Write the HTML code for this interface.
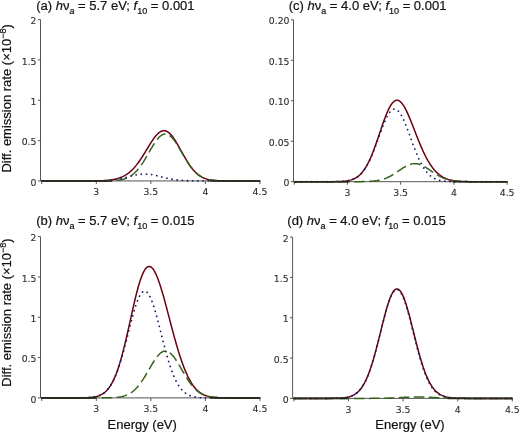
<!DOCTYPE html>
<html><head><meta charset="utf-8"><style>
html,body{margin:0;padding:0;background:#fff;}
svg{display:block;}
.tk{font-family:"DejaVu Sans", sans-serif;font-size:9.3px;fill:#2e2e2e;stroke:#2e2e2e;stroke-width:0.1px;}
.ti{font-family:"Liberation Sans", Arial, sans-serif;font-size:13.0px;fill:#111;stroke:#111;stroke-width:0.2px;}
</style></head><body>
<svg width="520" height="434" viewBox="0 0 520 434">
<rect width="520" height="434" fill="#fff"/>
<path d="M40.50 19.60V180.95M40.50 180.95H259.95" stroke="#555555" stroke-width="1" fill="none"/>
<path d="M41.75 180.95v3M96.30 180.95v3M150.85 180.95v3M205.40 180.95v3M259.95 180.95v3M40.50 180.95h-2.6M40.50 140.61h-2.6M40.50 100.27h-2.6M40.50 59.94h-2.6M40.50 19.60h-2.6" stroke="#555555" stroke-width="1" fill="none"/>
<text x="96.30" y="195.25" text-anchor="middle" class="tk">3</text>
<text x="150.85" y="195.25" text-anchor="middle" class="tk">3.5</text>
<text x="205.40" y="195.25" text-anchor="middle" class="tk">4</text>
<text x="259.95" y="195.25" text-anchor="middle" class="tk">4.5</text>
<text x="36.50" y="185.55" text-anchor="end" class="tk">0</text>
<text x="36.50" y="145.21" text-anchor="end" class="tk">0.5</text>
<text x="36.50" y="104.87" text-anchor="end" class="tk">1</text>
<text x="36.50" y="64.54" text-anchor="end" class="tk">1.5</text>
<text x="36.50" y="24.20" text-anchor="end" class="tk">2</text>
<polyline points="41.75,180.95 42.74,180.95 43.73,180.95 44.73,180.95 45.72,180.95 46.71,180.95 47.70,180.95 48.69,180.95 49.68,180.95 50.68,180.95 51.67,180.95 52.66,180.95 53.65,180.95 54.64,180.95 55.64,180.95 56.63,180.95 57.62,180.95 58.61,180.95 59.60,180.95 60.59,180.95 61.59,180.95 62.58,180.95 63.57,180.95 64.56,180.95 65.55,180.95 66.55,180.95 67.54,180.95 68.53,180.95 69.52,180.95 70.51,180.95 71.50,180.95 72.50,180.95 73.49,180.95 74.48,180.95 75.47,180.95 76.46,180.95 77.46,180.95 78.45,180.95 79.44,180.95 80.43,180.95 81.42,180.95 82.41,180.94 83.41,180.94 84.40,180.94 85.39,180.94 86.38,180.94 87.37,180.93 88.37,180.93 89.36,180.93 90.35,180.92 91.34,180.91 92.33,180.91 93.32,180.90 94.32,180.89 95.31,180.87 96.30,180.86 97.29,180.84 98.28,180.82 99.28,180.79 100.27,180.76 101.26,180.72 102.25,180.68 103.24,180.63 104.23,180.58 105.23,180.52 106.22,180.45 107.21,180.36 108.20,180.27 109.19,180.16 110.19,180.04 111.18,179.91 112.17,179.75 113.16,179.58 114.15,179.39 115.14,179.17 116.14,178.93 117.13,178.67 118.12,178.37 119.11,178.05 120.10,177.69 121.10,177.30 122.09,176.87 123.08,176.40 124.07,175.89 125.06,175.33 126.05,174.72 127.05,174.07 128.04,173.36 129.03,172.60 130.02,171.78 131.01,170.90 132.01,169.96 133.00,168.97 133.99,167.91 134.98,166.79 135.97,165.61 136.96,164.37 137.96,163.07 138.95,161.71 139.94,160.29 140.93,158.83 141.92,157.32 142.92,155.77 143.91,154.18 144.90,152.57 145.89,150.94 146.88,149.29 147.87,147.65 148.87,146.02 149.86,144.40 150.85,142.82 151.84,141.29 152.83,139.81 153.83,138.41 154.82,137.08 155.81,135.85 156.80,134.73 157.79,133.72 158.78,132.85 159.78,132.11 160.77,131.52 161.76,131.08 162.75,130.80 163.74,130.68 164.74,130.73 165.73,130.94 166.72,131.32 167.71,131.86 168.70,132.56 169.69,133.42 170.69,134.41 171.68,135.54 172.67,136.80 173.66,138.17 174.65,139.65 175.65,141.21 176.64,142.84 177.63,144.54 178.62,146.29 179.61,148.06 180.60,149.86 181.60,151.66 182.59,153.46 183.58,155.24 184.57,156.99 185.56,158.70 186.56,160.36 187.55,161.97 188.54,163.51 189.53,164.99 190.52,166.39 191.51,167.72 192.51,168.97 193.50,170.14 194.49,171.24 195.48,172.25 196.47,173.19 197.47,174.05 198.46,174.83 199.45,175.55 200.44,176.20 201.43,176.79 202.42,177.32 203.42,177.79 204.41,178.21 205.40,178.59 206.39,178.92 207.38,179.21 208.38,179.46 209.37,179.68 210.36,179.87 211.35,180.04 212.34,180.19 213.33,180.31 214.33,180.41 215.32,180.50 216.31,180.58 217.30,180.64 218.29,180.70 219.29,180.74 220.28,180.78 221.27,180.81 222.26,180.84 223.25,180.86 224.24,180.88 225.24,180.89 226.23,180.90 227.22,180.91 228.21,180.92 229.20,180.93 230.20,180.93 231.19,180.94 232.18,180.94 233.17,180.94 234.16,180.94 235.15,180.94 236.15,180.95 237.14,180.95 238.13,180.95 239.12,180.95 240.11,180.95 241.11,180.95 242.10,180.95 243.09,180.95 244.08,180.95 245.07,180.95 246.06,180.95 247.06,180.95 248.05,180.95 249.04,180.95 250.03,180.95 251.02,180.95 252.02,180.95 253.01,180.95 254.00,180.95 254.99,180.95 255.98,180.95 256.97,180.95 257.97,180.95 258.96,180.95 259.95,180.95" fill="none" stroke="#6a0010" stroke-width="1.5" stroke-linejoin="round"/>
<polyline points="41.75,180.95 42.74,180.95 43.73,180.95 44.73,180.95 45.72,180.95 46.71,180.95 47.70,180.95 48.69,180.95 49.68,180.95 50.68,180.95 51.67,180.95 52.66,180.95 53.65,180.95 54.64,180.95 55.64,180.95 56.63,180.95 57.62,180.95 58.61,180.95 59.60,180.95 60.59,180.95 61.59,180.95 62.58,180.95 63.57,180.95 64.56,180.95 65.55,180.95 66.55,180.95 67.54,180.95 68.53,180.95 69.52,180.95 70.51,180.95 71.50,180.95 72.50,180.95 73.49,180.95 74.48,180.95 75.47,180.95 76.46,180.95 77.46,180.95 78.45,180.95 79.44,180.95 80.43,180.95 81.42,180.95 82.41,180.95 83.41,180.95 84.40,180.95 85.39,180.95 86.38,180.95 87.37,180.95 88.37,180.95 89.36,180.95 90.35,180.95 91.34,180.95 92.33,180.95 93.32,180.95 94.32,180.95 95.31,180.95 96.30,180.94 97.29,180.94 98.28,180.94 99.28,180.94 100.27,180.93 101.26,180.93 102.25,180.92 103.24,180.92 104.23,180.91 105.23,180.89 106.22,180.88 107.21,180.86 108.20,180.84 109.19,180.82 110.19,180.79 111.18,180.75 112.17,180.71 113.16,180.66 114.15,180.60 115.14,180.53 116.14,180.44 117.13,180.34 118.12,180.22 119.11,180.08 120.10,179.92 121.10,179.74 122.09,179.52 123.08,179.28 124.07,179.00 125.06,178.68 126.05,178.32 127.05,177.91 128.04,177.46 129.03,176.95 130.02,176.38 131.01,175.75 132.01,175.06 133.00,174.29 133.99,173.46 134.98,172.55 135.97,171.57 136.96,170.51 137.96,169.38 138.95,168.16 139.94,166.87 140.93,165.51 141.92,164.08 142.92,162.59 143.91,161.03 144.90,159.42 145.89,157.77 146.88,156.09 147.87,154.37 148.87,152.65 149.86,150.92 150.85,149.20 151.84,147.51 152.83,145.86 153.83,144.26 154.82,142.73 155.81,141.28 156.80,139.93 157.79,138.69 158.78,137.56 159.78,136.58 160.77,135.73 161.76,135.04 162.75,134.51 163.74,134.15 164.74,133.95 165.73,133.93 166.72,134.08 167.71,134.40 168.70,134.89 169.69,135.54 170.69,136.34 171.68,137.29 172.67,138.38 173.66,139.59 174.65,140.92 175.65,142.35 176.64,143.86 177.63,145.44 178.62,147.08 179.61,148.76 180.60,150.47 181.60,152.20 182.59,153.93 183.58,155.64 184.57,157.34 185.56,159.00 186.56,160.62 187.55,162.19 188.54,163.70 189.53,165.15 190.52,166.53 191.51,167.83 192.51,169.07 193.50,170.22 194.49,171.30 195.48,172.31 196.47,173.23 197.47,174.08 198.46,174.87 199.45,175.58 200.44,176.22 201.43,176.81 202.42,177.33 203.42,177.80 204.41,178.22 205.40,178.59 206.39,178.92 207.38,179.21 208.38,179.46 209.37,179.68 210.36,179.88 211.35,180.04 212.34,180.19 213.33,180.31 214.33,180.42 215.32,180.50 216.31,180.58 217.30,180.64 218.29,180.70 219.29,180.74 220.28,180.78 221.27,180.81 222.26,180.84 223.25,180.86 224.24,180.88 225.24,180.89 226.23,180.90 227.22,180.91 228.21,180.92 229.20,180.93 230.20,180.93 231.19,180.94 232.18,180.94 233.17,180.94 234.16,180.94 235.15,180.94 236.15,180.95 237.14,180.95 238.13,180.95 239.12,180.95 240.11,180.95 241.11,180.95 242.10,180.95 243.09,180.95 244.08,180.95 245.07,180.95 246.06,180.95 247.06,180.95 248.05,180.95 249.04,180.95 250.03,180.95 251.02,180.95 252.02,180.95 253.01,180.95 254.00,180.95 254.99,180.95 255.98,180.95 256.97,180.95 257.97,180.95 258.96,180.95 259.95,180.95" fill="none" stroke="#35621b" stroke-width="1.5" stroke-dasharray="10.5 4.5"/>
<polyline points="41.75,180.95 42.74,180.95 43.73,180.95 44.73,180.95 45.72,180.95 46.71,180.95 47.70,180.95 48.69,180.95 49.68,180.95 50.68,180.95 51.67,180.95 52.66,180.95 53.65,180.95 54.64,180.95 55.64,180.95 56.63,180.95 57.62,180.95 58.61,180.95 59.60,180.95 60.59,180.95 61.59,180.95 62.58,180.95 63.57,180.95 64.56,180.95 65.55,180.95 66.55,180.95 67.54,180.95 68.53,180.95 69.52,180.95 70.51,180.95 71.50,180.95 72.50,180.95 73.49,180.95 74.48,180.95 75.47,180.95 76.46,180.95 77.46,180.95 78.45,180.95 79.44,180.95 80.43,180.95 81.42,180.95 82.41,180.95 83.41,180.94 84.40,180.94 85.39,180.94 86.38,180.94 87.37,180.93 88.37,180.93 89.36,180.93 90.35,180.92 91.34,180.92 92.33,180.91 93.32,180.90 94.32,180.89 95.31,180.88 96.30,180.86 97.29,180.85 98.28,180.83 99.28,180.80 100.27,180.78 101.26,180.75 102.25,180.71 103.24,180.67 104.23,180.62 105.23,180.57 106.22,180.51 107.21,180.45 108.20,180.37 109.19,180.29 110.19,180.20 111.18,180.10 112.17,179.99 113.16,179.87 114.15,179.74 115.14,179.60 116.14,179.44 117.13,179.28 118.12,179.10 119.11,178.92 120.10,178.72 121.10,178.51 122.09,178.29 123.08,178.07 124.07,177.84 125.06,177.60 126.05,177.35 127.05,177.10 128.04,176.85 129.03,176.60 130.02,176.35 131.01,176.10 132.01,175.86 133.00,175.62 133.99,175.40 134.98,175.19 135.97,174.99 136.96,174.81 137.96,174.64 138.95,174.49 139.94,174.37 140.93,174.27 141.92,174.19 142.92,174.13 143.91,174.10 144.90,174.09 145.89,174.11 146.88,174.16 147.87,174.23 148.87,174.32 149.86,174.43 150.85,174.57 151.84,174.73 152.83,174.90 153.83,175.09 154.82,175.30 155.81,175.52 156.80,175.75 157.79,175.99 158.78,176.23 159.78,176.48 160.77,176.73 161.76,176.98 162.75,177.24 163.74,177.48 164.74,177.73 165.73,177.96 166.72,178.19 167.71,178.41 168.70,178.63 169.69,178.83 170.69,179.02 171.68,179.20 172.67,179.37 173.66,179.53 174.65,179.68 175.65,179.81 176.64,179.94 177.63,180.05 178.62,180.16 179.61,180.25 180.60,180.34 181.60,180.42 182.59,180.48 183.58,180.55 184.57,180.60 185.56,180.65 186.56,180.69 187.55,180.73 188.54,180.76 189.53,180.79 190.52,180.82 191.51,180.84 192.51,180.85 193.50,180.87 194.49,180.88 195.48,180.90 196.47,180.90 197.47,180.91 198.46,180.92 199.45,180.92 200.44,180.93 201.43,180.93 202.42,180.94 203.42,180.94 204.41,180.94 205.40,180.94 206.39,180.94 207.38,180.95 208.38,180.95 209.37,180.95 210.36,180.95 211.35,180.95 212.34,180.95 213.33,180.95 214.33,180.95 215.32,180.95 216.31,180.95 217.30,180.95 218.29,180.95 219.29,180.95 220.28,180.95 221.27,180.95 222.26,180.95 223.25,180.95 224.24,180.95 225.24,180.95 226.23,180.95 227.22,180.95 228.21,180.95 229.20,180.95 230.20,180.95 231.19,180.95 232.18,180.95 233.17,180.95 234.16,180.95 235.15,180.95 236.15,180.95 237.14,180.95 238.13,180.95 239.12,180.95 240.11,180.95 241.11,180.95 242.10,180.95 243.09,180.95 244.08,180.95 245.07,180.95 246.06,180.95 247.06,180.95 248.05,180.95 249.04,180.95 250.03,180.95 251.02,180.95 252.02,180.95 253.01,180.95 254.00,180.95 254.99,180.95 255.98,180.95 256.97,180.95 257.97,180.95 258.96,180.95 259.95,180.95" fill="none" stroke="#1a1a6a" stroke-width="1.8" stroke-dasharray="0.01 5.19" stroke-dashoffset="3.80" stroke-linecap="round"/>
<path d="M41.00 180.95H112.12M209.76 180.95H260.45" stroke="#26281c" stroke-width="1.6" fill="none"/>
<text x="36.20" y="10.00" class="ti">(a) <tspan font-style="italic">h</tspan>ν<tspan font-style="italic" font-size="9" dy="3.9">a</tspan><tspan dy="-3.9"> = 5.7 eV; </tspan><tspan font-style="italic">f</tspan><tspan font-size="9" dy="3.9">10</tspan><tspan dy="-3.9"> = 0.001</tspan></text>
<text transform="translate(11.2 98.40) rotate(-90)" text-anchor="middle" class="ti">Diff. emission rate (×10<tspan font-size="9" dy="-5.2">−8</tspan><tspan dy="5.2">)</tspan></text>
<path d="M293.50 19.80V181.70M293.50 181.70H507.15" stroke="#555555" stroke-width="1" fill="none"/>
<path d="M294.15 181.70v3M347.40 181.70v3M400.65 181.70v3M453.90 181.70v3M507.15 181.70v3M293.50 181.70h-2.6M293.50 141.22h-2.6M293.50 100.75h-2.6M293.50 60.28h-2.6M293.50 19.80h-2.6" stroke="#555555" stroke-width="1" fill="none"/>
<text x="347.40" y="196.00" text-anchor="middle" class="tk">3</text>
<text x="400.65" y="196.00" text-anchor="middle" class="tk">3.5</text>
<text x="453.90" y="196.00" text-anchor="middle" class="tk">4</text>
<text x="507.15" y="196.00" text-anchor="middle" class="tk">4.5</text>
<text x="289.50" y="186.30" text-anchor="end" class="tk">0</text>
<text x="289.50" y="145.82" text-anchor="end" class="tk">0.05</text>
<text x="289.50" y="105.35" text-anchor="end" class="tk">0.10</text>
<text x="289.50" y="64.88" text-anchor="end" class="tk">0.15</text>
<text x="289.50" y="24.40" text-anchor="end" class="tk">0.20</text>
<polyline points="294.15,181.70 295.12,181.70 296.09,181.70 297.05,181.70 298.02,181.70 298.99,181.70 299.96,181.70 300.93,181.70 301.90,181.70 302.86,181.70 303.83,181.70 304.80,181.70 305.77,181.70 306.74,181.70 307.70,181.70 308.67,181.70 309.64,181.70 310.61,181.70 311.58,181.70 312.55,181.70 313.51,181.70 314.48,181.70 315.45,181.70 316.42,181.70 317.39,181.70 318.35,181.70 319.32,181.70 320.29,181.70 321.26,181.70 322.23,181.70 323.20,181.70 324.16,181.70 325.13,181.69 326.10,181.69 327.07,181.69 328.04,181.69 329.00,181.68 329.97,181.68 330.94,181.67 331.91,181.67 332.88,181.66 333.85,181.65 334.81,181.63 335.78,181.62 336.75,181.60 337.72,181.57 338.69,181.54 339.65,181.50 340.62,181.46 341.59,181.40 342.56,181.34 343.53,181.26 344.50,181.17 345.46,181.06 346.43,180.92 347.40,180.77 348.37,180.59 349.34,180.38 350.30,180.14 351.27,179.85 352.24,179.53 353.21,179.15 354.18,178.72 355.15,178.23 356.11,177.68 357.08,177.05 358.05,176.35 359.02,175.56 359.99,174.69 360.95,173.71 361.92,172.64 362.89,171.46 363.86,170.16 364.83,168.75 365.80,167.21 366.76,165.56 367.73,163.78 368.70,161.87 369.67,159.84 370.64,157.69 371.60,155.42 372.57,153.04 373.54,150.55 374.51,147.97 375.48,145.31 376.45,142.57 377.41,139.77 378.38,136.93 379.35,134.07 380.32,131.20 381.29,128.34 382.25,125.52 383.22,122.75 384.19,120.05 385.16,117.45 386.13,114.97 387.10,112.63 388.06,110.44 389.03,108.43 390.00,106.61 390.97,105.00 391.94,103.60 392.90,102.44 393.87,101.51 394.84,100.84 395.81,100.41 396.78,100.23 397.75,100.30 398.71,100.62 399.68,101.17 400.65,101.96 401.62,102.97 402.59,104.19 403.55,105.61 404.52,107.21 405.49,108.97 406.46,110.88 407.43,112.93 408.40,115.09 409.36,117.35 410.33,119.69 411.30,122.09 412.27,124.54 413.24,127.02 414.20,129.52 415.17,132.02 416.14,134.51 417.11,136.97 418.08,139.41 419.05,141.80 420.01,144.13 420.98,146.41 421.95,148.63 422.92,150.77 423.89,152.84 424.85,154.83 425.82,156.74 426.79,158.56 427.76,160.30 428.73,161.95 429.70,163.52 430.66,165.00 431.63,166.40 432.60,167.71 433.57,168.94 434.54,170.09 435.50,171.17 436.47,172.17 437.44,173.09 438.41,173.95 439.38,174.74 440.35,175.47 441.31,176.13 442.28,176.74 443.25,177.30 444.22,177.80 445.19,178.26 446.15,178.67 447.12,179.04 448.09,179.37 449.06,179.67 450.03,179.93 451.00,180.17 451.96,180.38 452.93,180.56 453.90,180.72 454.87,180.86 455.84,180.99 456.80,181.09 457.77,181.19 458.74,181.27 459.71,181.33 460.68,181.39 461.65,181.44 462.61,181.49 463.58,181.52 464.55,181.55 465.52,181.58 466.49,181.60 467.45,181.62 468.42,181.63 469.39,181.65 470.36,181.66 471.33,181.66 472.30,181.67 473.26,181.68 474.23,181.68 475.20,181.69 476.17,181.69 477.14,181.69 478.10,181.69 479.07,181.69 480.04,181.70 481.01,181.70 481.98,181.70 482.95,181.70 483.91,181.70 484.88,181.70 485.85,181.70 486.82,181.70 487.79,181.70 488.75,181.70 489.72,181.70 490.69,181.70 491.66,181.70 492.63,181.70 493.60,181.70 494.56,181.70 495.53,181.70 496.50,181.70 497.47,181.70 498.44,181.70 499.40,181.70 500.37,181.70 501.34,181.70 502.31,181.70 503.28,181.70 504.25,181.70 505.21,181.70 506.18,181.70 507.15,181.70" fill="none" stroke="#6a0010" stroke-width="1.5" stroke-linejoin="round"/>
<polyline points="294.15,181.70 295.12,181.70 296.09,181.70 297.05,181.70 298.02,181.70 298.99,181.70 299.96,181.70 300.93,181.70 301.90,181.70 302.86,181.70 303.83,181.70 304.80,181.70 305.77,181.70 306.74,181.70 307.70,181.70 308.67,181.70 309.64,181.70 310.61,181.70 311.58,181.70 312.55,181.70 313.51,181.70 314.48,181.70 315.45,181.70 316.42,181.70 317.39,181.70 318.35,181.70 319.32,181.70 320.29,181.70 321.26,181.70 322.23,181.70 323.20,181.70 324.16,181.70 325.13,181.70 326.10,181.70 327.07,181.70 328.04,181.70 329.00,181.70 329.97,181.70 330.94,181.70 331.91,181.70 332.88,181.70 333.85,181.70 334.81,181.70 335.78,181.70 336.75,181.70 337.72,181.70 338.69,181.70 339.65,181.70 340.62,181.70 341.59,181.70 342.56,181.70 343.53,181.70 344.50,181.70 345.46,181.70 346.43,181.70 347.40,181.70 348.37,181.70 349.34,181.70 350.30,181.69 351.27,181.69 352.24,181.69 353.21,181.69 354.18,181.69 355.15,181.68 356.11,181.68 357.08,181.67 358.05,181.67 359.02,181.66 359.99,181.65 360.95,181.64 361.92,181.62 362.89,181.61 363.86,181.59 364.83,181.56 365.80,181.54 366.76,181.50 367.73,181.47 368.70,181.42 369.67,181.37 370.64,181.31 371.60,181.23 372.57,181.15 373.54,181.06 374.51,180.95 375.48,180.83 376.45,180.69 377.41,180.54 378.38,180.36 379.35,180.16 380.32,179.95 381.29,179.70 382.25,179.44 383.22,179.15 384.19,178.83 385.16,178.48 386.13,178.10 387.10,177.69 388.06,177.26 389.03,176.79 390.00,176.30 390.97,175.78 391.94,175.23 392.90,174.65 393.87,174.06 394.84,173.44 395.81,172.80 396.78,172.16 397.75,171.50 398.71,170.84 399.68,170.17 400.65,169.52 401.62,168.87 402.59,168.23 403.55,167.62 404.52,167.03 405.49,166.48 406.46,165.96 407.43,165.48 408.40,165.05 409.36,164.67 410.33,164.35 411.30,164.08 412.27,163.88 413.24,163.74 414.20,163.66 415.17,163.65 416.14,163.71 417.11,163.83 418.08,164.02 419.05,164.27 420.01,164.58 420.98,164.94 421.95,165.36 422.92,165.83 423.89,166.34 424.85,166.88 425.82,167.46 426.79,168.07 427.76,168.70 428.73,169.35 429.70,170.00 430.66,170.66 431.63,171.33 432.60,171.99 433.57,172.64 434.54,173.28 435.50,173.90 436.47,174.50 437.44,175.08 438.41,175.64 439.38,176.16 440.35,176.67 441.31,177.14 442.28,177.58 443.25,178.00 444.22,178.38 445.19,178.74 446.15,179.07 447.12,179.36 448.09,179.64 449.06,179.89 450.03,180.11 451.00,180.31 451.96,180.49 452.93,180.65 453.90,180.80 454.87,180.92 455.84,181.03 456.80,181.13 457.77,181.21 458.74,181.29 459.71,181.35 460.68,181.41 461.65,181.45 462.61,181.49 463.58,181.53 464.55,181.56 465.52,181.58 466.49,181.60 467.45,181.62 468.42,181.64 469.39,181.65 470.36,181.66 471.33,181.67 472.30,181.67 473.26,181.68 474.23,181.68 475.20,181.69 476.17,181.69 477.14,181.69 478.10,181.69 479.07,181.69 480.04,181.70 481.01,181.70 481.98,181.70 482.95,181.70 483.91,181.70 484.88,181.70 485.85,181.70 486.82,181.70 487.79,181.70 488.75,181.70 489.72,181.70 490.69,181.70 491.66,181.70 492.63,181.70 493.60,181.70 494.56,181.70 495.53,181.70 496.50,181.70 497.47,181.70 498.44,181.70 499.40,181.70 500.37,181.70 501.34,181.70 502.31,181.70 503.28,181.70 504.25,181.70 505.21,181.70 506.18,181.70 507.15,181.70" fill="none" stroke="#35621b" stroke-width="1.5" stroke-dasharray="10.5 4.5"/>
<polyline points="294.15,181.70 295.12,181.70 296.09,181.70 297.05,181.70 298.02,181.70 298.99,181.70 299.96,181.70 300.93,181.70 301.90,181.70 302.86,181.70 303.83,181.70 304.80,181.70 305.77,181.70 306.74,181.70 307.70,181.70 308.67,181.70 309.64,181.70 310.61,181.70 311.58,181.70 312.55,181.70 313.51,181.70 314.48,181.70 315.45,181.70 316.42,181.70 317.39,181.70 318.35,181.70 319.32,181.70 320.29,181.70 321.26,181.70 322.23,181.70 323.20,181.70 324.16,181.70 325.13,181.69 326.10,181.69 327.07,181.69 328.04,181.69 329.00,181.68 329.97,181.68 330.94,181.67 331.91,181.67 332.88,181.66 333.85,181.65 334.81,181.63 335.78,181.62 336.75,181.60 337.72,181.57 338.69,181.54 339.65,181.50 340.62,181.46 341.59,181.40 342.56,181.34 343.53,181.26 344.50,181.17 345.46,181.06 346.43,180.93 347.40,180.77 348.37,180.59 349.34,180.38 350.30,180.14 351.27,179.86 352.24,179.53 353.21,179.16 354.18,178.73 355.15,178.25 356.11,177.70 357.08,177.08 358.05,176.38 359.02,175.61 359.99,174.74 360.95,173.78 361.92,172.71 362.89,171.55 363.86,170.27 364.83,168.88 365.80,167.38 366.76,165.75 367.73,164.01 368.70,162.15 369.67,160.17 370.64,158.08 371.60,155.89 372.57,153.59 373.54,151.19 374.51,148.72 375.48,146.18 376.45,143.58 377.41,140.94 378.38,138.27 379.35,135.60 380.32,132.95 381.29,130.34 382.25,127.78 383.22,125.30 384.19,122.93 385.16,120.68 386.13,118.57 387.10,116.63 388.06,114.88 389.03,113.34 390.00,112.01 390.97,110.92 391.94,110.07 392.90,109.49 393.87,109.16 394.84,109.10 395.81,109.30 396.78,109.77 397.75,110.50 398.71,111.48 399.68,112.70 400.65,114.15 401.62,115.80 402.59,117.66 403.55,119.69 404.52,121.87 405.49,124.20 406.46,126.63 407.43,129.15 408.40,131.74 409.36,134.38 410.33,137.04 411.30,139.71 412.27,142.37 413.24,144.99 414.20,147.56 415.17,150.07 416.14,152.50 417.11,154.84 418.08,157.09 419.05,159.23 420.01,161.26 420.98,163.17 421.95,164.97 422.92,166.65 423.89,168.20 424.85,169.65 425.82,170.97 426.79,172.19 427.76,173.30 428.73,174.31 429.70,175.22 430.66,176.04 431.63,176.77 432.60,177.42 433.57,178.01 434.54,178.52 435.50,178.97 436.47,179.37 437.44,179.71 438.41,180.02 439.38,180.28 440.35,180.50 441.31,180.69 442.28,180.86 443.25,181.00 444.22,181.12 445.19,181.22 446.15,181.30 447.12,181.37 448.09,181.43 449.06,181.48 450.03,181.52 451.00,181.56 451.96,181.59 452.93,181.61 453.90,181.63 454.87,181.64 455.84,181.65 456.80,181.66 457.77,181.67 458.74,181.68 459.71,181.68 460.68,181.69 461.65,181.69 462.61,181.69 463.58,181.69 464.55,181.70 465.52,181.70 466.49,181.70 467.45,181.70 468.42,181.70 469.39,181.70 470.36,181.70 471.33,181.70 472.30,181.70 473.26,181.70 474.23,181.70 475.20,181.70 476.17,181.70 477.14,181.70 478.10,181.70 479.07,181.70 480.04,181.70 481.01,181.70 481.98,181.70 482.95,181.70 483.91,181.70 484.88,181.70 485.85,181.70 486.82,181.70 487.79,181.70 488.75,181.70 489.72,181.70 490.69,181.70 491.66,181.70 492.63,181.70 493.60,181.70 494.56,181.70 495.53,181.70 496.50,181.70 497.47,181.70 498.44,181.70 499.40,181.70 500.37,181.70 501.34,181.70 502.31,181.70 503.28,181.70 504.25,181.70 505.21,181.70 506.18,181.70 507.15,181.70" fill="none" stroke="#1a1a6a" stroke-width="1.8" stroke-dasharray="0.01 5.19" stroke-dashoffset="3.30" stroke-linecap="round"/>
<path d="M294.00 181.70H348.78M452.62 181.70H507.65" stroke="#26281c" stroke-width="1.6" fill="none"/>
<text x="288.70" y="10.00" class="ti">(c) <tspan font-style="italic">h</tspan>ν<tspan font-size="9" dy="3.9">a</tspan><tspan dy="-3.9"> = 4.0 eV; </tspan><tspan font-style="italic">f</tspan><tspan font-size="9" dy="3.9">10</tspan><tspan dy="-3.9"> = 0.001</tspan></text>
<path d="M40.50 236.60V397.90M40.50 397.90H259.95" stroke="#555555" stroke-width="1" fill="none"/>
<path d="M41.75 397.90v3M96.30 397.90v3M150.85 397.90v3M205.40 397.90v3M259.95 397.90v3M40.50 397.90h-2.6M40.50 357.57h-2.6M40.50 317.25h-2.6M40.50 276.92h-2.6M40.50 236.60h-2.6" stroke="#555555" stroke-width="1" fill="none"/>
<text x="96.30" y="412.20" text-anchor="middle" class="tk">3</text>
<text x="150.85" y="412.20" text-anchor="middle" class="tk">3.5</text>
<text x="205.40" y="412.20" text-anchor="middle" class="tk">4</text>
<text x="259.95" y="412.20" text-anchor="middle" class="tk">4.5</text>
<text x="36.50" y="402.50" text-anchor="end" class="tk">0</text>
<text x="36.50" y="362.18" text-anchor="end" class="tk">0.5</text>
<text x="36.50" y="321.85" text-anchor="end" class="tk">1</text>
<text x="36.50" y="281.52" text-anchor="end" class="tk">1.5</text>
<text x="36.50" y="241.20" text-anchor="end" class="tk">2</text>
<polyline points="41.75,397.90 42.74,397.90 43.73,397.90 44.73,397.90 45.72,397.90 46.71,397.90 47.70,397.90 48.69,397.90 49.68,397.90 50.68,397.90 51.67,397.90 52.66,397.90 53.65,397.90 54.64,397.90 55.64,397.90 56.63,397.90 57.62,397.90 58.61,397.90 59.60,397.90 60.59,397.90 61.59,397.90 62.58,397.90 63.57,397.90 64.56,397.90 65.55,397.90 66.55,397.90 67.54,397.90 68.53,397.90 69.52,397.90 70.51,397.90 71.50,397.90 72.50,397.89 73.49,397.89 74.48,397.89 75.47,397.89 76.46,397.88 77.46,397.88 78.45,397.87 79.44,397.86 80.43,397.85 81.42,397.84 82.41,397.82 83.41,397.80 84.40,397.78 85.39,397.75 86.38,397.71 87.37,397.66 88.37,397.61 89.36,397.54 90.35,397.46 91.34,397.37 92.33,397.25 93.32,397.11 94.32,396.95 95.31,396.76 96.30,396.53 97.29,396.26 98.28,395.95 99.28,395.59 100.27,395.17 101.26,394.69 102.25,394.14 103.24,393.50 104.23,392.78 105.23,391.96 106.22,391.03 107.21,389.99 108.20,388.83 109.19,387.52 110.19,386.08 111.18,384.48 112.17,382.72 113.16,380.79 114.15,378.69 115.14,376.40 116.14,373.92 117.13,371.26 118.12,368.40 119.11,365.36 120.10,362.12 121.10,358.70 122.09,355.11 123.08,351.34 124.07,347.42 125.06,343.36 126.05,339.18 127.05,334.89 128.04,330.52 129.03,326.08 130.02,321.62 131.01,317.14 132.01,312.69 133.00,308.28 133.99,303.96 134.98,299.74 135.97,295.67 136.96,291.76 137.96,288.06 138.95,284.57 139.94,281.34 140.93,278.38 141.92,275.72 142.92,273.36 143.91,271.33 144.90,269.65 145.89,268.30 146.88,267.32 147.87,266.69 148.87,266.41 149.86,266.49 150.85,266.91 151.84,267.67 152.83,268.75 153.83,270.15 154.82,271.85 155.81,273.82 156.80,276.06 157.79,278.53 158.78,281.23 159.78,284.13 160.77,287.21 161.76,290.45 162.75,293.83 163.74,297.32 164.74,300.91 165.73,304.58 166.72,308.31 167.71,312.07 168.70,315.86 169.69,319.66 170.69,323.45 171.68,327.21 172.67,330.94 173.66,334.61 174.65,338.23 175.65,341.77 176.64,345.22 177.63,348.59 178.62,351.85 179.61,355.01 180.60,358.05 181.60,360.97 182.59,363.77 183.58,366.44 184.57,368.98 185.56,371.39 186.56,373.66 187.55,375.81 188.54,377.82 189.53,379.71 190.52,381.46 191.51,383.09 192.51,384.60 193.50,385.99 194.49,387.27 195.48,388.45 196.47,389.52 197.47,390.49 198.46,391.37 199.45,392.17 200.44,392.88 201.43,393.52 202.42,394.09 203.42,394.60 204.41,395.05 205.40,395.45 206.39,395.80 207.38,396.10 208.38,396.37 209.37,396.60 210.36,396.80 211.35,396.97 212.34,397.12 213.33,397.25 214.33,397.36 215.32,397.45 216.31,397.53 217.30,397.59 218.29,397.65 219.29,397.69 220.28,397.73 221.27,397.76 222.26,397.79 223.25,397.81 224.24,397.83 225.24,397.84 226.23,397.85 227.22,397.86 228.21,397.87 229.20,397.88 230.20,397.88 231.19,397.89 232.18,397.89 233.17,397.89 234.16,397.89 235.15,397.89 236.15,397.90 237.14,397.90 238.13,397.90 239.12,397.90 240.11,397.90 241.11,397.90 242.10,397.90 243.09,397.90 244.08,397.90 245.07,397.90 246.06,397.90 247.06,397.90 248.05,397.90 249.04,397.90 250.03,397.90 251.02,397.90 252.02,397.90 253.01,397.90 254.00,397.90 254.99,397.90 255.98,397.90 256.97,397.90 257.97,397.90 258.96,397.90 259.95,397.90" fill="none" stroke="#6a0010" stroke-width="1.5" stroke-linejoin="round"/>
<polyline points="41.75,397.90 42.74,397.90 43.73,397.90 44.73,397.90 45.72,397.90 46.71,397.90 47.70,397.90 48.69,397.90 49.68,397.90 50.68,397.90 51.67,397.90 52.66,397.90 53.65,397.90 54.64,397.90 55.64,397.90 56.63,397.90 57.62,397.90 58.61,397.90 59.60,397.90 60.59,397.90 61.59,397.90 62.58,397.90 63.57,397.90 64.56,397.90 65.55,397.90 66.55,397.90 67.54,397.90 68.53,397.90 69.52,397.90 70.51,397.90 71.50,397.90 72.50,397.90 73.49,397.90 74.48,397.90 75.47,397.90 76.46,397.90 77.46,397.90 78.45,397.90 79.44,397.90 80.43,397.90 81.42,397.90 82.41,397.90 83.41,397.90 84.40,397.90 85.39,397.90 86.38,397.90 87.37,397.90 88.37,397.90 89.36,397.90 90.35,397.90 91.34,397.90 92.33,397.90 93.32,397.90 94.32,397.90 95.31,397.90 96.30,397.89 97.29,397.89 98.28,397.89 99.28,397.89 100.27,397.88 101.26,397.88 102.25,397.87 103.24,397.87 104.23,397.86 105.23,397.85 106.22,397.83 107.21,397.82 108.20,397.80 109.19,397.77 110.19,397.74 111.18,397.71 112.17,397.66 113.16,397.61 114.15,397.55 115.14,397.48 116.14,397.39 117.13,397.29 118.12,397.17 119.11,397.04 120.10,396.88 121.10,396.69 122.09,396.48 123.08,396.24 124.07,395.96 125.06,395.64 126.05,395.29 127.05,394.88 128.04,394.43 129.03,393.92 130.02,393.36 131.01,392.73 132.01,392.04 133.00,391.28 133.99,390.45 134.98,389.55 135.97,388.57 136.96,387.52 137.96,386.39 138.95,385.18 139.94,383.90 140.93,382.55 141.92,381.12 142.92,379.64 143.91,378.09 144.90,376.49 145.89,374.85 146.88,373.17 147.87,371.47 148.87,369.75 149.86,368.03 150.85,366.33 151.84,364.65 152.83,363.00 153.83,361.41 154.82,359.89 155.81,358.45 156.80,357.10 157.79,355.87 158.78,354.75 159.78,353.77 160.77,352.93 161.76,352.24 162.75,351.71 163.74,351.35 164.74,351.16 165.73,351.13 166.72,351.28 167.71,351.60 168.70,352.09 169.69,352.74 170.69,353.54 171.68,354.48 172.67,355.56 173.66,356.77 174.65,358.09 175.65,359.51 176.64,361.01 177.63,362.58 178.62,364.21 179.61,365.89 180.60,367.59 181.60,369.30 182.59,371.02 183.58,372.73 184.57,374.42 185.56,376.07 186.56,377.68 187.55,379.24 188.54,380.74 189.53,382.18 190.52,383.56 191.51,384.86 192.51,386.08 193.50,387.23 194.49,388.31 195.48,389.30 196.47,390.22 197.47,391.07 198.46,391.85 199.45,392.56 200.44,393.20 201.43,393.78 202.42,394.30 203.42,394.77 204.41,395.19 205.40,395.55 206.39,395.88 207.38,396.17 208.38,396.42 209.37,396.64 210.36,396.83 211.35,397.00 212.34,397.14 213.33,397.26 214.33,397.37 215.32,397.46 216.31,397.53 217.30,397.60 218.29,397.65 219.29,397.69 220.28,397.73 221.27,397.76 222.26,397.79 223.25,397.81 224.24,397.83 225.24,397.84 226.23,397.85 227.22,397.86 228.21,397.87 229.20,397.88 230.20,397.88 231.19,397.89 232.18,397.89 233.17,397.89 234.16,397.89 235.15,397.89 236.15,397.90 237.14,397.90 238.13,397.90 239.12,397.90 240.11,397.90 241.11,397.90 242.10,397.90 243.09,397.90 244.08,397.90 245.07,397.90 246.06,397.90 247.06,397.90 248.05,397.90 249.04,397.90 250.03,397.90 251.02,397.90 252.02,397.90 253.01,397.90 254.00,397.90 254.99,397.90 255.98,397.90 256.97,397.90 257.97,397.90 258.96,397.90 259.95,397.90" fill="none" stroke="#35621b" stroke-width="1.5" stroke-dasharray="10.5 4.5"/>
<polyline points="41.75,397.90 42.74,397.90 43.73,397.90 44.73,397.90 45.72,397.90 46.71,397.90 47.70,397.90 48.69,397.90 49.68,397.90 50.68,397.90 51.67,397.90 52.66,397.90 53.65,397.90 54.64,397.90 55.64,397.90 56.63,397.90 57.62,397.90 58.61,397.90 59.60,397.90 60.59,397.90 61.59,397.90 62.58,397.90 63.57,397.90 64.56,397.90 65.55,397.90 66.55,397.90 67.54,397.90 68.53,397.90 69.52,397.90 70.51,397.90 71.50,397.90 72.50,397.89 73.49,397.89 74.48,397.89 75.47,397.89 76.46,397.88 77.46,397.88 78.45,397.87 79.44,397.86 80.43,397.85 81.42,397.84 82.41,397.82 83.41,397.80 84.40,397.78 85.39,397.75 86.38,397.71 87.37,397.67 88.37,397.61 89.36,397.54 90.35,397.46 91.34,397.37 92.33,397.25 93.32,397.12 94.32,396.95 95.31,396.76 96.30,396.54 97.29,396.27 98.28,395.96 99.28,395.60 100.27,395.19 101.26,394.71 102.25,394.16 103.24,393.54 104.23,392.82 105.23,392.01 106.22,391.10 107.21,390.08 108.20,388.93 109.19,387.65 110.19,386.24 111.18,384.68 112.17,382.96 113.16,381.08 114.15,379.04 115.14,376.82 116.14,374.43 117.13,371.87 118.12,369.13 119.11,366.22 120.10,363.14 121.10,359.91 122.09,356.53 123.08,353.00 124.07,349.36 125.06,345.62 126.05,341.79 127.05,337.91 128.04,333.99 129.03,330.06 130.02,326.16 131.01,322.31 132.01,318.55 133.00,314.90 133.99,311.41 134.98,308.09 135.97,305.00 136.96,302.15 137.96,299.57 138.95,297.29 139.94,295.34 140.93,293.73 141.92,292.49 142.92,291.62 143.91,291.14 144.90,291.05 145.89,291.35 146.88,292.05 147.87,293.12 148.87,294.56 149.86,296.35 150.85,298.48 151.84,300.92 152.83,303.65 153.83,306.64 154.82,309.86 155.81,313.27 156.80,316.85 157.79,320.57 158.78,324.38 159.78,328.26 160.77,332.18 161.76,336.11 162.75,340.01 163.74,343.87 164.74,347.65 165.73,351.34 166.72,354.92 167.71,358.37 168.70,361.68 169.69,364.83 170.69,367.81 171.68,370.63 172.67,373.27 173.66,375.74 174.65,378.04 175.65,380.16 176.64,382.12 177.63,383.91 178.62,385.54 179.61,387.02 180.60,388.36 181.60,389.56 182.59,390.64 183.58,391.61 184.57,392.46 185.56,393.22 186.56,393.88 187.55,394.47 188.54,394.98 189.53,395.42 190.52,395.80 191.51,396.14 192.51,396.42 193.50,396.66 194.49,396.87 195.48,397.04 196.47,397.19 197.47,397.32 198.46,397.42 199.45,397.51 200.44,397.58 201.43,397.64 202.42,397.69 203.42,397.73 204.41,397.76 205.40,397.79 206.39,397.81 207.38,397.83 208.38,397.85 209.37,397.86 210.36,397.87 211.35,397.87 212.34,397.88 213.33,397.88 214.33,397.89 215.32,397.89 216.31,397.89 217.30,397.89 218.29,397.90 219.29,397.90 220.28,397.90 221.27,397.90 222.26,397.90 223.25,397.90 224.24,397.90 225.24,397.90 226.23,397.90 227.22,397.90 228.21,397.90 229.20,397.90 230.20,397.90 231.19,397.90 232.18,397.90 233.17,397.90 234.16,397.90 235.15,397.90 236.15,397.90 237.14,397.90 238.13,397.90 239.12,397.90 240.11,397.90 241.11,397.90 242.10,397.90 243.09,397.90 244.08,397.90 245.07,397.90 246.06,397.90 247.06,397.90 248.05,397.90 249.04,397.90 250.03,397.90 251.02,397.90 252.02,397.90 253.01,397.90 254.00,397.90 254.99,397.90 255.98,397.90 256.97,397.90 257.97,397.90 258.96,397.90 259.95,397.90" fill="none" stroke="#1a1a6a" stroke-width="1.8" stroke-dasharray="0.01 5.19" stroke-dashoffset="4.20" stroke-linecap="round"/>
<path d="M41.00 397.90H95.54M209.87 397.90H260.45" stroke="#26281c" stroke-width="1.6" fill="none"/>
<text x="36.20" y="224.80" class="ti">(b) <tspan font-style="italic">h</tspan>ν<tspan font-size="9" dy="3.9">a</tspan><tspan dy="-3.9"> = 5.7 eV; </tspan><tspan font-style="italic">f</tspan><tspan font-size="9" dy="3.9">10</tspan><tspan dy="-3.9"> = 0.015</tspan></text>
<text transform="translate(11.2 312.55) rotate(-90)" text-anchor="middle" class="ti">Diff. emission rate (×10<tspan font-size="9" dy="-5.2">−8</tspan><tspan dy="5.2">)</tspan></text>
<text x="142.20" y="428.8" text-anchor="middle" class="ti">Energy (eV)</text>
<path d="M292.60 237.10V398.40M292.60 398.40H512.10" stroke="#555555" stroke-width="1" fill="none"/>
<path d="M293.90 398.40v3M348.50 398.40v3M403.10 398.40v3M457.70 398.40v3M512.30 398.40v3M292.60 398.40h-2.6M292.60 358.07h-2.6M292.60 317.75h-2.6M292.60 277.42h-2.6M292.60 237.10h-2.6" stroke="#555555" stroke-width="1" fill="none"/>
<text x="348.50" y="412.70" text-anchor="middle" class="tk">3</text>
<text x="403.10" y="412.70" text-anchor="middle" class="tk">3.5</text>
<text x="457.70" y="412.70" text-anchor="middle" class="tk">4</text>
<text x="512.30" y="412.70" text-anchor="middle" class="tk">4.5</text>
<text x="288.60" y="403.00" text-anchor="end" class="tk">0</text>
<text x="288.60" y="362.68" text-anchor="end" class="tk">0.5</text>
<text x="288.60" y="322.35" text-anchor="end" class="tk">1</text>
<text x="288.60" y="282.02" text-anchor="end" class="tk">1.5</text>
<text x="288.60" y="241.70" text-anchor="end" class="tk">2</text>
<polyline points="293.90,398.40 294.89,398.40 295.89,398.40 296.88,398.40 297.87,398.40 298.86,398.40 299.86,398.40 300.85,398.40 301.84,398.40 302.83,398.40 303.83,398.40 304.82,398.40 305.81,398.40 306.81,398.40 307.80,398.40 308.79,398.40 309.78,398.40 310.78,398.40 311.77,398.40 312.76,398.40 313.75,398.40 314.75,398.40 315.74,398.40 316.73,398.40 317.73,398.40 318.72,398.40 319.71,398.40 320.70,398.40 321.70,398.40 322.69,398.40 323.68,398.39 324.67,398.39 325.67,398.39 326.66,398.39 327.65,398.39 328.65,398.38 329.64,398.38 330.63,398.37 331.62,398.36 332.62,398.35 333.61,398.34 334.60,398.32 335.59,398.30 336.59,398.28 337.58,398.24 338.57,398.21 339.57,398.16 340.56,398.10 341.55,398.04 342.54,397.96 343.54,397.86 344.53,397.74 345.52,397.60 346.51,397.44 347.51,397.24 348.50,397.01 349.49,396.74 350.49,396.43 351.48,396.06 352.47,395.64 353.46,395.15 354.46,394.59 355.45,393.95 356.44,393.23 357.43,392.40 358.43,391.47 359.42,390.43 360.41,389.26 361.41,387.96 362.40,386.51 363.39,384.92 364.38,383.17 365.38,381.25 366.37,379.17 367.36,376.91 368.35,374.47 369.35,371.86 370.34,369.06 371.33,366.10 372.33,362.96 373.32,359.65 374.31,356.20 375.30,352.61 376.30,348.89 377.29,345.06 378.28,341.15 379.27,337.18 380.27,333.18 381.26,329.16 382.25,325.17 383.25,321.22 384.24,317.37 385.23,313.63 386.22,310.04 387.22,306.64 388.21,303.45 389.20,300.52 390.19,297.86 391.19,295.50 392.18,293.47 393.17,291.79 394.17,290.48 395.16,289.55 396.15,289.01 397.14,288.87 398.14,289.13 399.13,289.78 400.12,290.82 401.11,292.23 402.11,294.01 403.10,296.13 404.09,298.56 405.09,301.29 406.08,304.29 407.07,307.52 408.06,310.95 409.06,314.56 410.05,318.30 411.04,322.15 412.03,326.08 413.03,330.05 414.02,334.03 415.01,337.99 416.01,341.90 417.00,345.75 417.99,349.51 418.98,353.16 419.98,356.69 420.97,360.07 421.96,363.30 422.95,366.37 423.95,369.27 424.94,372.00 425.93,374.55 426.93,376.93 427.92,379.14 428.91,381.17 429.90,383.05 430.90,384.76 431.89,386.32 432.88,387.74 433.87,389.02 434.87,390.17 435.86,391.21 436.85,392.13 437.85,392.95 438.84,393.68 439.83,394.32 440.82,394.89 441.82,395.39 442.81,395.82 443.80,396.20 444.79,396.52 445.79,396.81 446.78,397.05 447.77,397.26 448.77,397.44 449.76,397.59 450.75,397.72 451.74,397.84 452.74,397.93 453.73,398.01 454.72,398.08 455.71,398.13 456.71,398.18 457.70,398.22 458.69,398.25 459.69,398.28 460.68,398.30 461.67,398.32 462.66,398.33 463.66,398.35 464.65,398.36 465.64,398.36 466.63,398.37 467.63,398.38 468.62,398.38 469.61,398.38 470.61,398.39 471.60,398.39 472.59,398.39 473.58,398.39 474.58,398.40 475.57,398.40 476.56,398.40 477.55,398.40 478.55,398.40 479.54,398.40 480.53,398.40 481.53,398.40 482.52,398.40 483.51,398.40 484.50,398.40 485.50,398.40 486.49,398.40 487.48,398.40 488.47,398.40 489.47,398.40 490.46,398.40 491.45,398.40 492.45,398.40 493.44,398.40 494.43,398.40 495.42,398.40 496.42,398.40 497.41,398.40 498.40,398.40 499.39,398.40 500.39,398.40 501.38,398.40 502.37,398.40 503.37,398.40 504.36,398.40 505.35,398.40 506.34,398.40 507.34,398.40 508.33,398.40 509.32,398.40 510.31,398.40 511.31,398.40 512.30,398.40" fill="none" stroke="#6a0010" stroke-width="1.5" stroke-linejoin="round"/>
<polyline points="293.90,398.40 294.89,398.40 295.89,398.40 296.88,398.40 297.87,398.40 298.86,398.40 299.86,398.40 300.85,398.40 301.84,398.40 302.83,398.40 303.83,398.40 304.82,398.40 305.81,398.40 306.81,398.40 307.80,398.40 308.79,398.40 309.78,398.40 310.78,398.40 311.77,398.40 312.76,398.40 313.75,398.40 314.75,398.40 315.74,398.40 316.73,398.40 317.73,398.40 318.72,398.40 319.71,398.40 320.70,398.40 321.70,398.40 322.69,398.40 323.68,398.40 324.67,398.40 325.67,398.40 326.66,398.40 327.65,398.40 328.65,398.40 329.64,398.40 330.63,398.40 331.62,398.40 332.62,398.40 333.61,398.40 334.60,398.40 335.59,398.40 336.59,398.40 337.58,398.40 338.57,398.40 339.57,398.40 340.56,398.40 341.55,398.40 342.54,398.40 343.54,398.40 344.53,398.40 345.52,398.40 346.51,398.40 347.51,398.40 348.50,398.40 349.49,398.40 350.49,398.40 351.48,398.40 352.47,398.40 353.46,398.40 354.46,398.40 355.45,398.40 356.44,398.40 357.43,398.40 358.43,398.40 359.42,398.40 360.41,398.40 361.41,398.40 362.40,398.40 363.39,398.39 364.38,398.39 365.38,398.39 366.37,398.39 367.36,398.39 368.35,398.38 369.35,398.38 370.34,398.38 371.33,398.37 372.33,398.37 373.32,398.36 374.31,398.36 375.30,398.35 376.30,398.34 377.29,398.33 378.28,398.32 379.27,398.31 380.27,398.29 381.26,398.28 382.25,398.26 383.25,398.24 384.24,398.22 385.23,398.19 386.22,398.17 387.22,398.14 388.21,398.11 389.20,398.08 390.19,398.04 391.19,398.01 392.18,397.97 393.17,397.92 394.17,397.88 395.16,397.83 396.15,397.79 397.14,397.74 398.14,397.68 399.13,397.63 400.12,397.58 401.11,397.53 402.11,397.47 403.10,397.42 404.09,397.37 405.09,397.32 406.08,397.27 407.07,397.22 408.06,397.18 409.06,397.13 410.05,397.10 411.04,397.06 412.03,397.03 413.03,397.00 414.02,396.98 415.01,396.97 416.01,396.96 417.00,396.95 417.99,396.95 418.98,396.95 419.98,396.96 420.97,396.98 421.96,397.00 422.95,397.02 423.95,397.05 424.94,397.09 425.93,397.12 426.93,397.16 427.92,397.21 428.91,397.26 429.90,397.30 430.90,397.35 431.89,397.41 432.88,397.46 433.87,397.51 434.87,397.57 435.86,397.62 436.85,397.67 437.85,397.72 438.84,397.77 439.83,397.82 440.82,397.87 441.82,397.91 442.81,397.95 443.80,398.00 444.79,398.03 445.79,398.07 446.78,398.10 447.77,398.13 448.77,398.16 449.76,398.19 450.75,398.21 451.74,398.23 452.74,398.25 453.73,398.27 454.72,398.29 455.71,398.30 456.71,398.32 457.70,398.33 458.69,398.34 459.69,398.35 460.68,398.35 461.67,398.36 462.66,398.37 463.66,398.37 464.65,398.38 465.64,398.38 466.63,398.38 467.63,398.39 468.62,398.39 469.61,398.39 470.61,398.39 471.60,398.39 472.59,398.39 473.58,398.40 474.58,398.40 475.57,398.40 476.56,398.40 477.55,398.40 478.55,398.40 479.54,398.40 480.53,398.40 481.53,398.40 482.52,398.40 483.51,398.40 484.50,398.40 485.50,398.40 486.49,398.40 487.48,398.40 488.47,398.40 489.47,398.40 490.46,398.40 491.45,398.40 492.45,398.40 493.44,398.40 494.43,398.40 495.42,398.40 496.42,398.40 497.41,398.40 498.40,398.40 499.39,398.40 500.39,398.40 501.38,398.40 502.37,398.40 503.37,398.40 504.36,398.40 505.35,398.40 506.34,398.40 507.34,398.40 508.33,398.40 509.32,398.40 510.31,398.40 511.31,398.40 512.30,398.40" fill="none" stroke="#35621b" stroke-width="1.5" stroke-dasharray="10.5 4.5"/>
<polyline points="293.90,398.40 294.89,398.40 295.89,398.40 296.88,398.40 297.87,398.40 298.86,398.40 299.86,398.40 300.85,398.40 301.84,398.40 302.83,398.40 303.83,398.40 304.82,398.40 305.81,398.40 306.81,398.40 307.80,398.40 308.79,398.40 309.78,398.40 310.78,398.40 311.77,398.40 312.76,398.40 313.75,398.40 314.75,398.40 315.74,398.40 316.73,398.40 317.73,398.40 318.72,398.40 319.71,398.40 320.70,398.40 321.70,398.40 322.69,398.40 323.68,398.39 324.67,398.39 325.67,398.39 326.66,398.39 327.65,398.39 328.65,398.38 329.64,398.38 330.63,398.37 331.62,398.36 332.62,398.35 333.61,398.34 334.60,398.32 335.59,398.30 336.59,398.28 337.58,398.24 338.57,398.21 339.57,398.16 340.56,398.10 341.55,398.04 342.54,397.96 343.54,397.86 344.53,397.74 345.52,397.60 346.51,397.44 347.51,397.24 348.50,397.01 349.49,396.74 350.49,396.43 351.48,396.06 352.47,395.64 353.46,395.15 354.46,394.59 355.45,393.95 356.44,393.23 357.43,392.40 358.43,391.47 359.42,390.43 360.41,389.26 361.41,387.96 362.40,386.52 363.39,384.93 364.38,383.18 365.38,381.26 366.37,379.18 367.36,376.92 368.35,374.49 369.35,371.88 370.34,369.09 371.33,366.12 372.33,362.99 373.32,359.69 374.31,356.24 375.30,352.66 376.30,348.95 377.29,345.13 378.28,341.24 379.27,337.28 380.27,333.28 381.26,329.28 382.25,325.31 383.25,321.38 384.24,317.55 385.23,313.83 386.22,310.27 387.22,306.90 388.21,303.74 389.20,300.84 390.19,298.21 391.19,295.89 392.18,293.91 393.17,292.27 394.17,291.00 395.16,290.12 396.15,289.63 397.14,289.54 398.14,289.84 399.13,290.55 400.12,291.64 401.11,293.11 402.11,294.94 403.10,297.11 404.09,299.59 405.09,302.37 406.08,305.42 407.07,308.70 408.06,312.18 409.06,315.82 410.05,319.61 411.04,323.49 412.03,327.45 413.03,331.44 414.02,335.44 415.01,339.42 416.01,343.35 417.00,347.21 417.99,350.97 418.98,354.61 419.98,358.12 420.97,361.49 421.96,364.70 422.95,367.74 423.95,370.62 424.94,373.31 425.93,375.83 426.93,378.16 427.92,380.33 428.91,382.32 429.90,384.14 430.90,385.80 431.89,387.31 432.88,388.68 433.87,389.91 434.87,391.01 435.86,391.99 436.85,392.86 437.85,393.63 438.84,394.31 439.83,394.90 440.82,395.42 441.82,395.87 442.81,396.27 443.80,396.60 444.79,396.89 445.79,397.14 446.78,397.35 447.77,397.53 448.77,397.68 449.76,397.81 450.75,397.91 451.74,398.00 452.74,398.08 453.73,398.14 454.72,398.19 455.71,398.23 456.71,398.26 457.70,398.29 458.69,398.31 459.69,398.33 460.68,398.34 461.67,398.36 462.66,398.37 463.66,398.37 464.65,398.38 465.64,398.38 466.63,398.39 467.63,398.39 468.62,398.39 469.61,398.39 470.61,398.40 471.60,398.40 472.59,398.40 473.58,398.40 474.58,398.40 475.57,398.40 476.56,398.40 477.55,398.40 478.55,398.40 479.54,398.40 480.53,398.40 481.53,398.40 482.52,398.40 483.51,398.40 484.50,398.40 485.50,398.40 486.49,398.40 487.48,398.40 488.47,398.40 489.47,398.40 490.46,398.40 491.45,398.40 492.45,398.40 493.44,398.40 494.43,398.40 495.42,398.40 496.42,398.40 497.41,398.40 498.40,398.40 499.39,398.40 500.39,398.40 501.38,398.40 502.37,398.40 503.37,398.40 504.36,398.40 505.35,398.40 506.34,398.40 507.34,398.40 508.33,398.40 509.32,398.40 510.31,398.40 511.31,398.40 512.30,398.40" fill="none" stroke="#1a1a6a" stroke-width="1.8" stroke-dasharray="0.01 5.19" stroke-dashoffset="3.80" stroke-linecap="round"/>
<path d="M293.10 398.40H347.63M447.54 398.40H512.60" stroke="#26281c" stroke-width="1.6" fill="none"/>
<text x="287.30" y="224.60" class="ti">(d) <tspan font-style="italic">h</tspan>ν<tspan font-size="9" dy="3.9">a</tspan><tspan dy="-3.9"> = 4.0 eV; </tspan><tspan font-style="italic">f</tspan><tspan font-size="9" dy="3.9">10</tspan><tspan dy="-3.9"> = 0.015</tspan></text>
<text x="410.00" y="428.8" text-anchor="middle" class="ti">Energy (eV)</text>
</svg>
</body></html>
